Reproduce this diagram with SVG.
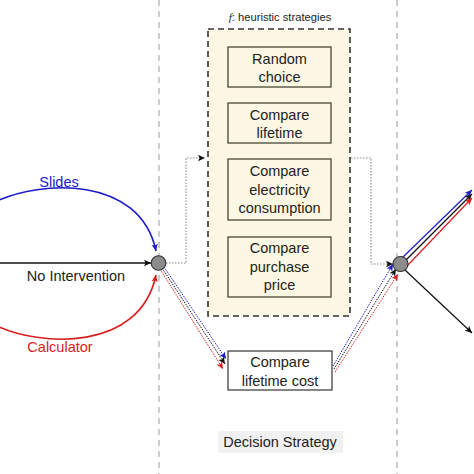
<svg xmlns="http://www.w3.org/2000/svg" width="474" height="474" viewBox="0 0 474 474">
<style>
text{font-family:"Liberation Sans",Arial,sans-serif;fill:#222;text-anchor:middle}
.t{font-size:14.5px}
.sep{stroke:#cccccc;stroke-width:2;stroke-dasharray:6,5;fill:none}
.box{fill:#fcf8e4;stroke:#4a4638;stroke-width:1.3}
.dot{fill:none;stroke:#888;stroke-width:1.1;stroke-dasharray:1.5,1.5}
.hub{fill:#8c8c8c;stroke:#333;stroke-width:1.1}
</style>
<defs>
<marker id="ak" markerWidth="8" markerHeight="8" refX="7" refY="4" orient="auto" markerUnits="userSpaceOnUse"><path d="M0,0.8 L7,4 L0,7.2 L1.6,4 Z" fill="#111"/></marker>
<marker id="ab" markerWidth="8" markerHeight="8" refX="7" refY="4" orient="auto" markerUnits="userSpaceOnUse"><path d="M0,0.8 L7,4 L0,7.2 L1.6,4 Z" fill="#1c1cc8"/></marker>
<marker id="ar" markerWidth="8" markerHeight="8" refX="7" refY="4" orient="auto" markerUnits="userSpaceOnUse"><path d="M0,0.8 L7,4 L0,7.2 L1.6,4 Z" fill="#d81e1e"/></marker>
</defs>
<rect width="474" height="474" fill="#fff"/>
<g id="separators">
<line class="sep" x1="159" y1="0" x2="159" y2="474"/>
<line class="sep" x1="397" y1="0" x2="397" y2="474"/>
</g>
<g id="heuristics">
<text x="280" y="21" style="font-size:11.2px"><tspan font-style="italic" font-family="Liberation Serif,serif">f</tspan>: heuristic strategies</text>
<rect x="208" y="29" width="142" height="287" fill="#fcf8e4" stroke="#333" stroke-width="1.6" stroke-dasharray="6,4"/>
</g>
<g id="random"><rect class="box" x="228" y="47" width="103" height="40"/><text class="t" x="279.5" y="64">Random</text><text class="t" x="279.5" y="82">choice</text></g>
<g id="lifetime"><rect class="box" x="228" y="103" width="103" height="40"/><text class="t" x="279.5" y="120">Compare</text><text class="t" x="279.5" y="138">lifetime</text></g>
<g id="electricity"><rect class="box" x="228" y="159" width="103" height="61"/><text class="t" x="279.5" y="176">Compare</text><text class="t" x="279.5" y="195">electricity</text><text class="t" x="279.5" y="213">consumption</text></g>
<g id="purchase"><rect class="box" x="228" y="237" width="103" height="60"/><text class="t" x="279.5" y="253">Compare</text><text class="t" x="279.5" y="272">purchase</text><text class="t" x="279.5" y="290">price</text></g>
<g id="lifetimecost"><rect x="228" y="351" width="104" height="39" fill="#fff" stroke="#444" stroke-width="1.3"/><text class="t" x="280" y="367">Compare</text><text class="t" x="280" y="386">lifetime cost</text></g>
<g id="decision"><rect x="218" y="431" width="125" height="22" fill="#f1f1f1"/><text class="t" x="280" y="447">Decision Strategy</text></g>
<g id="connectors">
<path d="M-5,202 C40,180 140,175 156,251" fill="none" stroke="#1c1cc8" stroke-width="1.6" marker-end="url(#ab)"/>
<path d="M-5,325 C40,347 140,352 156,275" fill="none" stroke="#d81e1e" stroke-width="1.6" marker-end="url(#ar)"/>
<line x1="0" y1="263" x2="151" y2="263" stroke="#111" stroke-width="1.6" marker-end="url(#ak)"/>
<path class="dot" d="M166,263 H186 V158 H205" marker-end="url(#ak)"/>
<path class="dot" d="M351,158 H371 V264 H393" marker-end="url(#ak)"/>
<line x1="164" y1="267" x2="226" y2="359" stroke="#1c1cc8" stroke-width="1" stroke-dasharray="1.5,1.2" marker-end="url(#ab)"/>
<line x1="162" y1="268" x2="225" y2="364" stroke="#111" stroke-width="1" stroke-dasharray="1.5,1.2" marker-end="url(#ak)"/>
<line x1="160" y1="269" x2="223" y2="369" stroke="#d81e1e" stroke-width="1" stroke-dasharray="1.5,1.2" marker-end="url(#ar)"/>
<line x1="333" y1="366" x2="393" y2="264" stroke="#1c1cc8" stroke-width="1" stroke-dasharray="1.5,1.2" marker-end="url(#ab)"/>
<line x1="334" y1="369" x2="396" y2="269" stroke="#111" stroke-width="1" stroke-dasharray="1.5,1.2" marker-end="url(#ak)"/>
<line x1="335" y1="372" x2="398" y2="274" stroke="#d81e1e" stroke-width="1" stroke-dasharray="1.5,1.2" marker-end="url(#ar)"/>
<line x1="402" y1="258" x2="472" y2="190" stroke="#1c1cc8" stroke-width="1.2" marker-end="url(#ab)"/>
<line x1="405" y1="261" x2="472" y2="194" stroke="#111" stroke-width="1.2" marker-end="url(#ak)"/>
<line x1="407" y1="266" x2="472" y2="198" stroke="#d81e1e" stroke-width="1.2" marker-end="url(#ar)"/>
<line x1="405" y1="270" x2="472" y2="333" stroke="#111" stroke-width="1.2" marker-end="url(#ak)"/>
</g>
<g id="hubLeft"><circle class="hub" cx="158.5" cy="263" r="7.3"/></g>
<g id="hubRight"><circle class="hub" cx="400.5" cy="264" r="7.5"/></g>
<g id="labels">
<text class="t" x="59" y="187" style="fill:#1c1cc8">Slides</text>
<text class="t" x="76" y="281">No Intervention</text>
<text class="t" x="60" y="352" style="fill:#d81e1e">Calculator</text>
</g>
</svg>
